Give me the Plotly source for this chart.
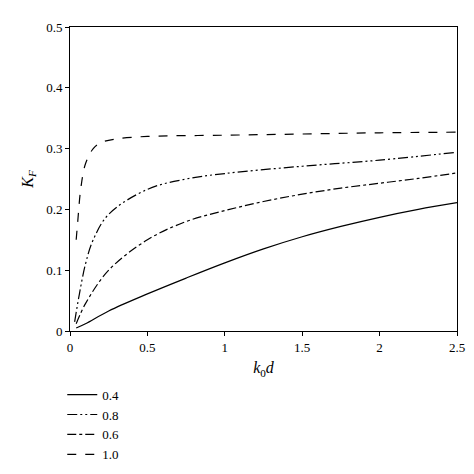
import plotly.graph_objects as go

x04 = [0.04, 0.1, 0.25, 0.5, 0.75, 1.0, 1.25, 1.5, 1.75, 2.0, 2.25, 2.5]
y04 = [0.005, 0.012, 0.033, 0.061, 0.087, 0.112, 0.135, 0.155, 0.172, 0.187, 0.2, 0.211]
x06 = [0.04, 0.1, 0.25, 0.5, 0.75, 1.0, 1.25, 1.5, 1.75, 2.0, 2.25, 2.5]
y06 = [0.012, 0.045, 0.1, 0.15, 0.18, 0.198, 0.213, 0.225, 0.235, 0.243, 0.251, 0.26]
x08 = [0.03, 0.06, 0.1, 0.15, 0.25, 0.5, 0.75, 1.0, 1.5, 2.0, 2.5]
y08 = [0.015, 0.06, 0.11, 0.15, 0.192, 0.233, 0.25, 0.259, 0.271, 0.281, 0.294]
x10 = [0.04, 0.05, 0.07, 0.1, 0.15, 0.2, 0.3, 0.5, 1.0, 1.5, 2.0, 2.5]
y10 = [0.15, 0.18, 0.235, 0.275, 0.3, 0.31, 0.316, 0.32, 0.322, 0.324, 0.326, 0.327]

series = [("0.4", x04, y04, "solid"),
          ("0.8", x08, y08, "10px,3px,2px,3px,2px,3px"),
          ("0.6", x06, y06, "dashdot"),
          ("1.0", x10, y10, "dash")]

fig = go.Figure()
for name, xs, ys, dash in series:
    fig.add_trace(go.Scatter(x=xs, y=ys, name=name, mode="lines", line_shape="spline",
                             line=dict(color="black", width=1.2, dash=dash)))

ax = dict(showgrid=False, zeroline=False, showline=True, linecolor="black", mirror=True,
          ticks="outside", ticklen=4, tickcolor="black", tickfont=dict(size=13))
fig.update_layout(
    width=474, height=474, plot_bgcolor="white", paper_bgcolor="white",
    font=dict(family="Liberation Serif", color="black", size=13),
    margin=dict(l=62, r=25, t=12, b=95),
    xaxis=dict(ax, range=[0, 2.5], dtick=0.5,
               title=dict(text="<i>k</i><sub>0</sub><i>d</i>", standoff=8)),
    yaxis=dict(ax, range=[0, 0.5], dtick=0.1,
               title=dict(text="<i>K<sub>F</sub></i>", standoff=8)),
    legend=dict(orientation="h", x=-0.02, y=-0.16, xanchor="left", yanchor="top",
                entrywidth=0.55, entrywidthmode="fraction", font=dict(size=13)),
)
fig.write_html("out.html")
